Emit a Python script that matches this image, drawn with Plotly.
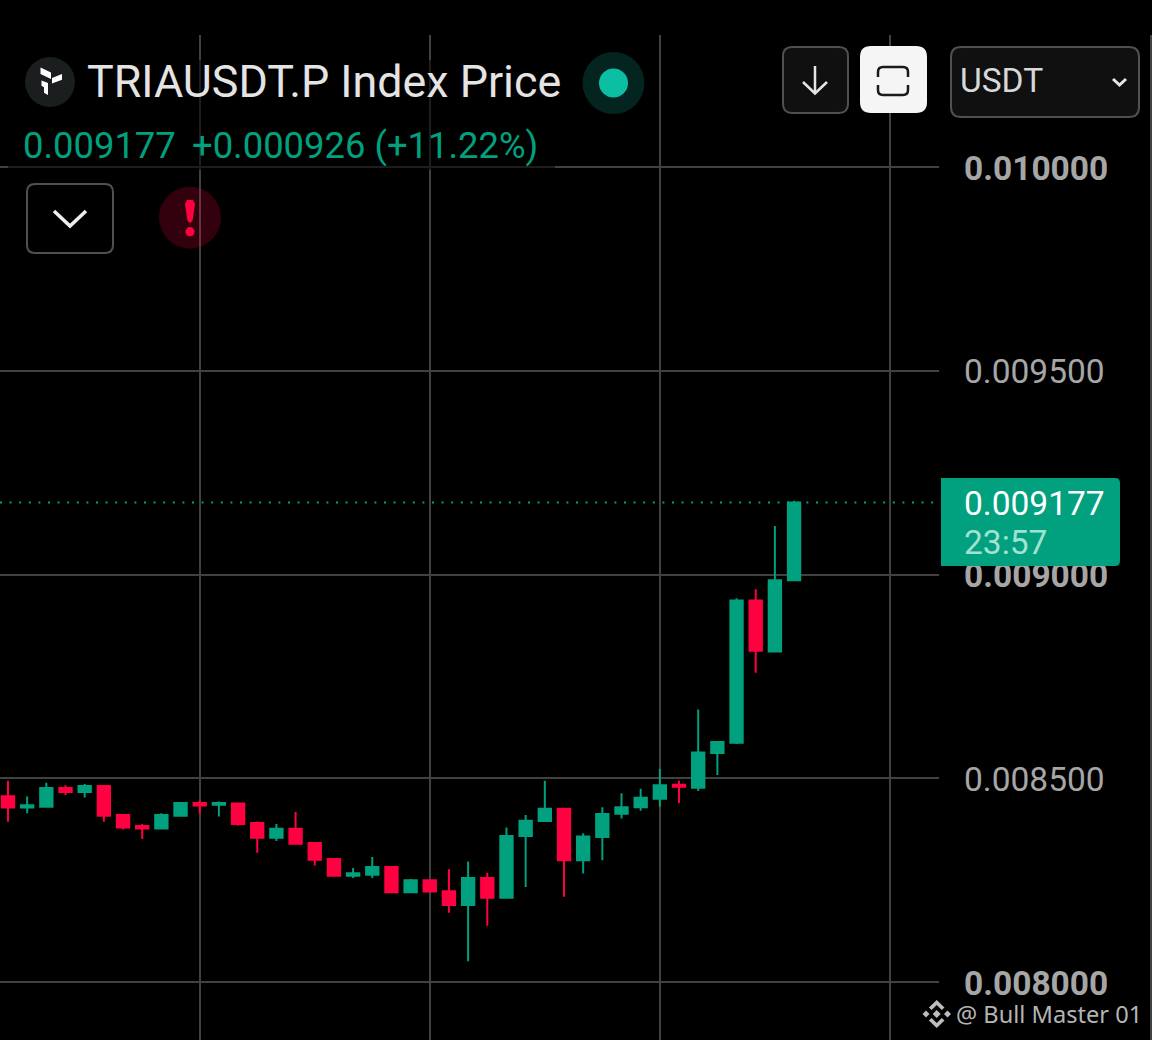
"""TRIAUSDT.P index price, candlestick screenshot rebuilt with plotly."""
import plotly.graph_objects as go

WIDTH = 1152
HEIGHT = 1040

GREEN = "#01a07e"
RED = "#ff0040"
GRID = "#414141"
AXIS_TEXT = "#a6a6a6"
BORDER = "#505050"
FONT = "Roboto"

candle_index = list(range(42))
opens = [
    0.008456, 0.008428, 0.008430, 0.008476, 0.008466, 0.008481, 0.008410,
    0.008383, 0.008377, 0.008408, 0.008439, 0.008435, 0.008438, 0.008390,
    0.008354, 0.008376, 0.008341, 0.008302, 0.008261, 0.008263, 0.008282,
    0.008220, 0.008250, 0.008223, 0.008189, 0.008255, 0.008207, 0.008358,
    0.008395, 0.008425, 0.008299, 0.008356, 0.008413, 0.008429, 0.008450,
    0.008484, 0.008477, 0.008562, 0.008587, 0.008936, 0.008811, 0.008986,
]
highs = [
    0.008494, 0.008455, 0.008489, 0.008483, 0.008486, 0.008481, 0.008412,
    0.008388, 0.008414, 0.008442, 0.008445, 0.008443, 0.008438, 0.008394,
    0.008388, 0.008417, 0.008341, 0.008302, 0.008280, 0.008307, 0.008282,
    0.008253, 0.008250, 0.008277, 0.008296, 0.008268, 0.008379, 0.008410,
    0.008494, 0.008425, 0.008365, 0.008429, 0.008463, 0.008474, 0.008523,
    0.008494, 0.008669, 0.008589, 0.008942, 0.008964, 0.009119, 0.009181,
]
lows = [
    0.008393, 0.008414, 0.008430, 0.008459, 0.008453, 0.008393, 0.008374,
    0.008351, 0.008374, 0.008408, 0.008413, 0.008406, 0.008384, 0.008317,
    0.008346, 0.008339, 0.008286, 0.008261, 0.008255, 0.008255, 0.008220,
    0.008220, 0.008222, 0.008170, 0.008051, 0.008138, 0.008207, 0.008233,
    0.008395, 0.008209, 0.008266, 0.008299, 0.008401, 0.008420, 0.008430,
    0.008439, 0.008469, 0.008508, 0.008584, 0.008759, 0.008811, 0.008986,
]
closes = [
    0.008428, 0.008434, 0.008476, 0.008466, 0.008481, 0.008408, 0.008379,
    0.008377, 0.008410, 0.008439, 0.008433, 0.008439, 0.008388, 0.008354,
    0.008376, 0.008339, 0.008300, 0.008261, 0.008267, 0.008282, 0.008220,
    0.008250, 0.008222, 0.008189, 0.008255, 0.008207, 0.008358, 0.008396,
    0.008425, 0.008299, 0.008357, 0.008412, 0.008429, 0.008452, 0.008483,
    0.008479, 0.008563, 0.008589, 0.008936, 0.008813, 0.008986, 0.009177,
]

price_ticks = [0.008, 0.0085, 0.009, 0.0095, 0.01]
price_tick_labels = ["<b>0.008000</b>", "0.008500", "<b>0.009000</b>",
                     "0.009500", "<b>0.010000</b>"]
last_price = 0.009177


def px_x(p):
    return p / WIDTH


def px_y(p):
    return 1 - p / HEIGHT


def poly(points, closed=True):
    """Path in screen pixels -> path in paper coordinates."""
    parts = [f"{px_x(x):.5f},{px_y(y):.5f}" for x, y in points]
    return "M" + " L".join(parts) + (" Z" if closed else "")


def round_rect(x0, y0, x1, y1, r, corners=(True, True, True, True)):
    """Rounded rectangle; corners = top-left, top-right, bot-right, bot-left."""
    tl, tr, br, bl = [r if c else 0 for c in corners]
    def pt(x, y):
        return f"{px_x(x):.5f},{px_y(y):.5f}"
    return (
        f"M{pt(x0 + tl, y0)} L{pt(x1 - tr, y0)} Q{pt(x1, y0)} {pt(x1, y0 + tr)} "
        f"L{pt(x1, y1 - br)} Q{pt(x1, y1)} {pt(x1 - br, y1)} "
        f"L{pt(x0 + bl, y1)} Q{pt(x0, y1)} {pt(x0, y1 - bl)} "
        f"L{pt(x0, y0 + tl)} Q{pt(x0, y0)} {pt(x0 + tl, y0)} Z"
    )


def path_shape(path, fill=None, line=None, width=0):
    shape = dict(type="path", xref="paper", yref="paper", path=path,
                 layer="above", line=dict(width=width))
    if fill:
        shape["fillcolor"] = fill
    if line:
        shape["line"]["color"] = line
    return shape


def rect_shape(x0, y0, x1, y1, fill):
    return dict(type="rect", xref="paper", yref="paper", layer="above",
                x0=px_x(x0), x1=px_x(x1), y0=px_y(y1), y1=px_y(y0),
                fillcolor=fill, line=dict(width=0))


def circle_shape(cx, cy, r, fill):
    return dict(type="circle", xref="paper", yref="paper", layer="above",
                x0=px_x(cx - r), x1=px_x(cx + r),
                y0=px_y(cy + r), y1=px_y(cy - r),
                fillcolor=fill, line=dict(width=0))


def label(x, y, text, size, color, family=FONT):
    return dict(xref="paper", yref="paper", x=px_x(x), y=px_y(y), text=text,
                showarrow=False, xanchor="left", yanchor="middle",
                borderpad=0, font=dict(family=family, size=size, color=color))


shapes = [
    # top strip has no grid, header text sits on a dark veil
    rect_shape(0, 0, WIDTH, 35, "#000000"),
    rect_shape(8, 60, 555, 170, "rgba(0,0,0,0.55)"),
    # right edge line
    dict(type="line", xref="paper", yref="paper", layer="above",
         x0=px_x(1151), x1=px_x(1151), y0=px_y(35), y1=0,
         line=dict(color=GRID, width=2)),
    # last price line
    dict(type="line", xref="paper", yref="y", layer="above",
         x0=0, x1=px_x(939), y0=last_price, y1=last_price,
         line=dict(color=GREEN, width=2, dash="2px,7.6px")),
    # price tag
    path_shape(round_rect(941, 478, 1120, 566, 5, (False, True, True, False)),
               fill=GREEN),
    # logo
    circle_shape(50, 82, 25, "#1b1e1e"),
    path_shape(poly([(40.5, 67.5), (51, 72.5), (51, 79), (40.5, 74)]), fill="#ffffff"),
    path_shape(poly([(52, 78), (62, 74), (62, 79.8), (52, 83.5)]), fill="#ffffff"),
    path_shape(poly([(41.5, 80.5), (48, 83), (48, 95), (44, 92.7),
                     (44, 87.3), (41.5, 85.8)]), fill="#ffffff"),
    # live dot
    circle_shape(613.5, 83, 31, "#04241f"),
    circle_shape(613.5, 83, 14.5, "#0bbfa5"),
    # collapse button
    path_shape(round_rect(27, 184, 113, 253, 8), line=BORDER, width=2),
    path_shape(poly([(54, 211), (70, 226), (86, 211)], closed=False),
               line="#eeeeee", width=3.5),
    # warning badge
    circle_shape(190, 217.7, 31, "rgba(255,0,64,0.2)"),
    path_shape(poly([(185, 204), (187, 200), (193, 200), (195, 204),
                     (192.5, 221), (190, 223), (187.5, 221)]), fill=RED),
    circle_shape(190, 231.7, 4.6, RED),
    # arrow button
    path_shape(round_rect(783, 47, 848, 113, 9), fill="#101010", line=BORDER, width=2),
    path_shape(poly([(815, 66), (815, 93)], closed=False), line="#e6e6e6", width=2.5),
    path_shape(poly([(803, 82), (815, 93.5), (827, 82)], closed=False),
               line="#e6e6e6", width=2.5),
    # fullscreen button
    path_shape(round_rect(860, 46, 927, 113, 11), fill="#f5f5f5"),
    path_shape(f"M{px_x(878):.5f},{px_y(77):.5f} L{px_x(878):.5f},{px_y(72):.5f} "
               f"Q{px_x(878):.5f},{px_y(67):.5f} {px_x(883):.5f},{px_y(67):.5f} "
               f"L{px_x(903):.5f},{px_y(67):.5f} "
               f"Q{px_x(908):.5f},{px_y(67):.5f} {px_x(908):.5f},{px_y(72):.5f} "
               f"L{px_x(908):.5f},{px_y(77):.5f}", line="#1a1a1a", width=2.5),
    path_shape(f"M{px_x(878):.5f},{px_y(85):.5f} L{px_x(878):.5f},{px_y(90):.5f} "
               f"Q{px_x(878):.5f},{px_y(95):.5f} {px_x(883):.5f},{px_y(95):.5f} "
               f"L{px_x(903):.5f},{px_y(95):.5f} "
               f"Q{px_x(908):.5f},{px_y(95):.5f} {px_x(908):.5f},{px_y(90):.5f} "
               f"L{px_x(908):.5f},{px_y(85):.5f}", line="#1a1a1a", width=2.5),
    # currency select
    path_shape(round_rect(951, 47, 1139, 117, 10), fill="#101010", line=BORDER, width=2),
    path_shape(poly([(1113, 79), (1119.5, 85), (1126, 79)], closed=False),
               line="#e6e6e6", width=3),
    # binance mark
    path_shape(poly([(936.7, 1010), (940.7, 1014), (936.7, 1018), (932.7, 1014)]), fill="#bdbdbd"),
    path_shape(poly([(926, 1010.5), (929.5, 1014), (926, 1017.5), (922.5, 1014)]), fill="#bdbdbd"),
    path_shape(poly([(947.5, 1010.5), (951, 1014), (947.5, 1017.5), (944, 1014)]), fill="#bdbdbd"),
    path_shape(poly([(936.7, 1000), (944.5, 1007.5), (941.8, 1010), (936.7, 1005),
                     (931.6, 1010), (928.9, 1007.5)]), fill="#bdbdbd"),
    path_shape(poly([(936.7, 1028), (944.5, 1020.5), (941.8, 1018), (936.7, 1023),
                     (931.6, 1018), (928.9, 1020.5)]), fill="#bdbdbd"),
]

annotations = [
    label(86, 82, "TRIAUSDT.P Index Price", 44.8, "#e4e4e4"),
    label(21.5, 146, "0.009177", 36.4, GREEN),
    label(190.5, 146, "+0.000926 (+11.22%)", 36.4, GREEN),
    label(958.5, 81, "USDT", 33.5, "#d8d8d8"),
    label(962.5, 503, "0.009177", 33.5, "#ffffff"),
    label(962.5, 542, "23:57", 33.5, "#a3e2d2"),
    label(955, 1014, "@ Bull Master 01", 23.6, "#b4b4b4", "Noto Sans"),
]

fig = go.Figure()
fig.add_trace(go.Candlestick(
    x=candle_index,
    open=opens,
    high=highs,
    low=lows,
    close=closes,
    increasing=dict(line=dict(color=GREEN, width=2), fillcolor=GREEN),
    decreasing=dict(line=dict(color=RED, width=2), fillcolor=RED),
    whiskerwidth=0,
    showlegend=False,
))

fig.update_layout(
    width=WIDTH,
    height=HEIGHT,
    margin=dict(l=0, r=0, t=0, b=0),
    paper_bgcolor="#000000",
    plot_bgcolor="#000000",
    boxgap=0.08,
    showlegend=False,
    shapes=shapes,
    annotations=annotations,
    font=dict(family=FONT),
    xaxis=dict(
        domain=[0, 939 / WIDTH],
        range=[-0.417, 48.56],
        tick0=10,
        dtick=12,
        showticklabels=False,
        showgrid=True,
        gridcolor=GRID,
        gridwidth=2,
        zeroline=False,
        showline=False,
        rangeslider=dict(visible=False),
    ),
    yaxis=dict(
        side="right",
        range=[0.0078577, 0.0104098],
        tickmode="array",
        tickvals=price_ticks,
        ticktext=price_tick_labels,
        tickfont=dict(family=FONT, size=33.5, color=AXIS_TEXT),
        ticklabelstandoff=24,
        ticklabelshift=1,
        showgrid=True,
        gridcolor=GRID,
        gridwidth=2,
        zeroline=False,
        showline=False,
        ticks="",
    ),
)

fig.write_html("out.html", config=dict(displayModeBar=False),
               post_script="document.body.style.margin='0';document.body.style.overflow='hidden';")
